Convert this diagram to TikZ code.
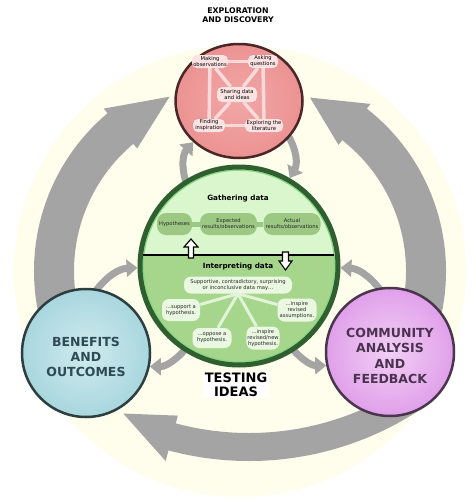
\documentclass[tikz,border=0pt]{standalone}
\usepackage{fontspec}
\setmainfont{DejaVu Sans}
\usetikzlibrary{arrows.meta,calc,shapes.geometric}
\definecolor{bgyel}{HTML}{F4F0BC}
\definecolor{bgin}{HTML}{FFFDEC}
\definecolor{arrgrey}{HTML}{A4A4A4}
\definecolor{redfill}{HTML}{EC9393}
\definecolor{redin}{HTML}{F2A6A6}
\definecolor{redline}{HTML}{4B2626}
\definecolor{pinkbox}{HTML}{FBE3E3}
\definecolor{pinkline}{HTML}{F8DADA}
\definecolor{gdark}{HTML}{2F5F2F}
\definecolor{glight}{HTML}{86D886}
\definecolor{gtop}{HTML}{DAF6CC}
\definecolor{gbot}{HTML}{A6D58C}
\definecolor{gpill}{HTML}{9CC884}
\definecolor{gpilllight}{HTML}{EAF8E2}
\definecolor{glink}{HTML}{E2F4D8}
\definecolor{bluefill}{HTML}{A9D6DE}
\definecolor{bluein}{HTML}{CFEBEF}
\definecolor{blueline}{HTML}{2C3E40}
\definecolor{bluetext}{HTML}{2E4A54}
\definecolor{purfill}{HTML}{E0A0EA}
\definecolor{purin}{HTML}{F2CFF5}
\definecolor{purline}{HTML}{4A364C}
\definecolor{purtext}{HTML}{4B3350}
\pgfdeclareradialshading{bgshade}{\pgfpointorigin}{color(0bp)=(bgin); color(28bp)=(bgin); color(46bp)=(bgyel); color(100bp)=(bgyel)}
\pgfdeclarelayer{back}
\pgfdeclarelayer{arrowlayer}
\pgfsetlayers{back,arrowlayer,main}
\newcommand{\tinytext}{\fontsize{5.2}{6}\selectfont}
\begin{document}
\begin{tikzpicture}[x=1pt,y=1pt,
  bigarrow/.style={fill=arrgrey},
  smallarrow/.style={draw=arrgrey, line width=7pt, shorten <=-4pt, -{Triangle[width=17pt,length=11pt]}},
  redbox/.style={fill=pinkbox, rounded corners=5pt, inner sep=0.8pt, font=\tinytext, align=center, minimum height=13pt},
  redlink/.style={draw=pinkline, line width=3.5pt},
  gpillst/.style={fill=gpill, rounded corners=9pt, minimum height=22pt, inner sep=0.8pt, font=\tinytext, align=center, text=black!85},
  ipill/.style={fill=gpilllight, rounded corners=7pt, inner sep=0.8pt, font=\tinytext, align=center, text=black!85},
  ilink/.style={draw=glink, line width=3pt},
  bigcircle/.style={circle, minimum size=128pt, inner sep=0pt, line width=2.5pt, outer sep=1.25pt},
  bigtext/.style={font=\bfseries\fontsize{12.5}{15.2}\selectfont, align=center},
  hollow/.style={draw=black, line width=1.1pt, fill=white, line join=miter}
]
\useasboundingbox (0,0) rectangle (474,-498);
\begin{pgfonlayer}{back}
\fill[white] (0,0) rectangle (474,-498);
\coordinate (C) at (240,-271);
\coordinate (D) at (249,-150);
\shade[shading=bgshade] (C) circle (226);
\end{pgfonlayer}

% big arrows
\begin{pgfonlayer}{arrowlayer}
\fill[bigarrow] ($(C)+(200:206)$) arc[start angle=200, end angle=130, radius=206]
  -- ($(C)+(130:212)$) -- ($(C)+(112:188)$) -- ($(C)+(130:160)$)
  -- ($(C)+(130:166)$) arc[start angle=130, end angle=200, radius=166] -- cycle;
\fill[bigarrow] ($(C)+(-25:206)$) arc[start angle=-25, end angle=52, radius=206]
  -- ($(C)+(52:212)$) -- ($(C)+(68:187)$) -- ($(C)+(52:160)$)
  -- ($(C)+(52:166)$) arc[start angle=52, end angle=-25, radius=166] -- cycle;
\fill[bigarrow] ($(D)+(-55:311)$) arc[start angle=-55, end angle=-105, radius=311]
  -- ($(D)+(-105:322)$) -- ($(D)+(-115.5:292)$) -- ($(D)+(-105:275)$)
  -- ($(D)+(-105:283)$) arc[start angle=-105, end angle=-55, radius=283] -- cycle;
\end{pgfonlayer}

% title
\node[font=\bfseries\fontsize{7.8}{8.4}\selectfont, align=center] (title) at (238,-15) {EXPLORATION\\AND DISCOVERY};

% exploration circle
\node[ellipse, minimum width=127pt, minimum height=114pt, inner sep=0pt, outer sep=1.25pt, draw=redline, line width=2.5pt, inner color=redin, outer color=redfill] (red) at (239,-101) {};
\node[redbox, minimum width=36pt] (mo) at (210,-61.5) {Making\\observations};
\node[redbox, minimum width=30pt] (aq) at (263,-61.5) {Asking\\questions};
\node[redbox, minimum width=40pt, minimum height=15pt] (sd) at (237,-94.5) {Sharing data\\and ideas};
\node[redbox, minimum width=32pt] (fi) at (209,-125.5) {Finding\\inspiration};
\node[redbox, minimum width=38pt] (el) at (264,-125.5) {Exploring the\\literature};
\draw[redlink] (mo) -- (aq);
\draw[redlink] (fi) -- (el);
\draw[redlink] (mo) -- (fi);
\draw[redlink] (aq) -- (el);
\draw[redlink] (mo) -- (sd);
\draw[redlink] (sd) -- (el);
\draw[redlink] (aq) -- (sd);
\draw[redlink] (sd) -- (fi);

% testing circle
\node[circle, minimum size=198pt, inner sep=0pt, outer sep=2.5pt] (green) at (239,-266) {};
\begin{scope}
\clip (green.center) circle (99);
\fill[gtop] (130,-160) rectangle (350,-255);
\fill[gbot] (130,-255) rectangle (350,-370);
\end{scope}
\draw[glight, line width=1.2pt] (green.center) circle (95.8);
\draw[gdark, line width=5pt] (green.center) circle (99);
\draw[line width=1.5pt] (143,-255) -- (334,-255);
\node[font=\bfseries\fontsize{7.2}{8}\selectfont] (gath) at (238,-199) {Gathering data};
\node[gpillst, minimum width=35pt] (hyp) at (174.5,-224) {Hypotheses};
\node[gpillst, minimum width=57pt] (exp) at (228.5,-224) {Expected\\results/observations};
\node[gpillst, minimum width=57pt] (act) at (292,-224) {Actual\\results/observations};
\draw[gpill, line width=5pt] (hyp) -- (exp);
\draw[gpill, line width=5pt] (exp) -- (act);
\draw[hollow] (188.5,-258) -- (188.5,-247) -- (184,-247) -- (191,-239) -- (198,-247) -- (193.5,-247) -- (193.5,-258) -- cycle;
\draw[hollow] (282.5,-252) -- (282.5,-261) -- (279,-261) -- (285.5,-270) -- (292,-261) -- (288.5,-261) -- (288.5,-252) -- cycle;
\node[font=\bfseries\fontsize{7.2}{8}\selectfont] (interp) at (238,-267) {Interpreting data};
\node[ipill, minimum width=108pt, minimum height=17pt] (sup) at (238,-285) {Supportive, contradictory, surprising\\or inconclusive data may\dots};
\node[ipill, minimum width=38pt, minimum height=22pt] (s1) at (181,-310) {...support a\\hypothesis.};
\node[ipill, minimum width=39pt, minimum height=23pt] (s2) at (297,-310) {...inspire\\revised\\assumptions.};
\node[ipill, minimum width=39pt, minimum height=20pt] (s3) at (212,-338) {...oppose a\\hypothesis.};
\node[ipill, minimum width=33pt, minimum height=23pt] (s4) at (263,-338) {...inspire\\revised/new\\hypothesis.};
\draw[ilink] (sup.south) -- (s1);
\draw[ilink] (sup.south) -- (s2);
\draw[ilink] (sup.south) -- (s3);
\draw[ilink] (sup.south) -- (s4);
\node[fill=white, inner sep=1.5pt, font=\bfseries\fontsize{13}{14}\selectfont, align=center] (testing) at (236,-385) {TESTING\\IDEAS};

% benefits and community circles
\node[bigcircle, draw=blueline, inner color=bluein, outer color=bluefill] (ben) at (86,-353) {};
\node[bigtext, text=bluetext] (bentext) at (86,-357) {BENEFITS\\AND\\OUTCOMES};
\node[bigcircle, draw=purline, inner color=purin, outer color=purfill] (com) at (390,-352) {};
\node[bigtext, text=purtext] (comtext) at (390,-356) {COMMUNITY\\ANALYSIS\\AND\\FEEDBACK};

% small arrows
\begin{pgfonlayer}{arrowlayer}
\draw[smallarrow] (green.122) to[bend left=30] (red.222);
\draw[smallarrow] (red.-36) to[bend left=30] (green.60);
\draw[smallarrow] (ben.80) to[bend left=25] (green.181);
\draw[smallarrow] (green.237) to[bend left=25] (ben.-12);
\draw[smallarrow] (com.100) to[bend right=25] (green.-1);
\draw[smallarrow] (green.-57) to[bend right=25] (com.192);
\end{pgfonlayer}
\end{tikzpicture}
\end{document}
